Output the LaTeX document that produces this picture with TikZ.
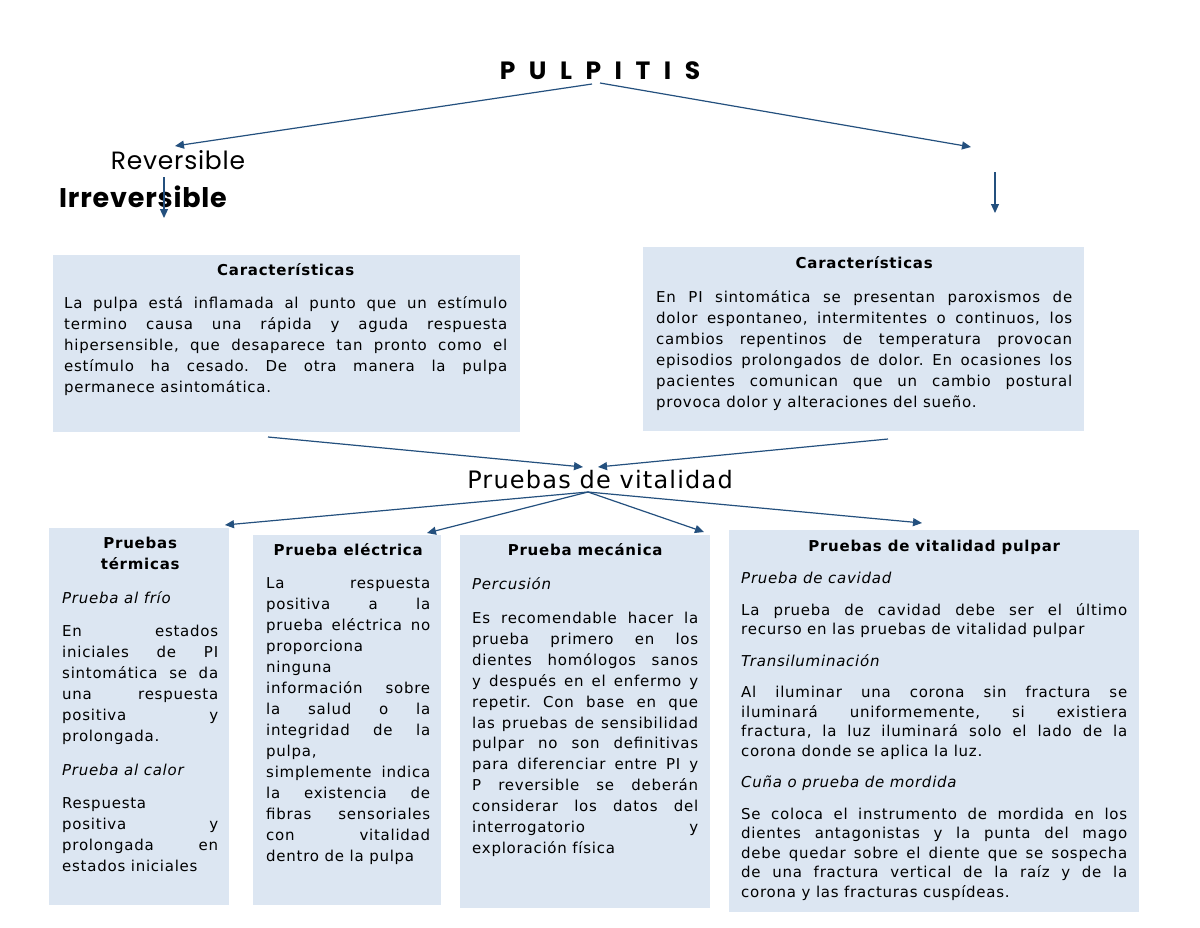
\documentclass[tikz,border=0pt]{standalone}
\usepackage{fontspec}
\setmainfont{DejaVu Sans}[LetterSpace=5]
\newfontfamily\poppreg{Poppins}[LetterSpace=3]
\newfontfamily\poppwide{Poppins}[LetterSpace=33]
\usetikzlibrary{arrows.meta}
\definecolor{boxblue}{HTML}{DCE6F2}
\definecolor{arrblue}{HTML}{24507E}
\newcommand\boxsetup[1]{\frenchspacing\parskip=#1\relax\parindent=0pt\relax\hyphenpenalty=10000\relax\exhyphenpenalty=10000\relax\tolerance=10000\relax\hbadness=10000\relax}
\newcommand\boxtitle[1]{{\centering\rule{0pt}{14pt}\bfseries #1\par}}
\begin{document}
\begin{tikzpicture}[x=1pt,y=-1pt,
  bluebox/.style={fill=boxblue, draw=none, inner sep=0pt, outer sep=0pt, anchor=north west},
  boxtext/.style={anchor=north west, inner sep=0pt, align=justify, font=\fontsize{15}{21}\selectfont},
  conn/.style={draw=arrblue, line width=1.2pt, -{Triangle[length=9pt,width=8pt]}},
  bigtext/.style={anchor=base, inner sep=0pt}]
\useasboundingbox[fill=white] (0,0) rectangle (1200,927);

% headings
\node[bigtext, font=\fontsize{25}{28}\selectfont\poppwide\bfseries] (pulpitis) at (600,79) {P U L P I T I S};
\node[bigtext, font=\fontsize{25}{28}\selectfont\poppreg] (rev) at (178,169) {Reversible};
\node[bigtext, font=\fontsize{27}{30}\selectfont\poppreg\bfseries] (irrev) at (143,207) {Irreversible};
\node[bigtext, font=\fontsize{24}{28}\selectfont\frenchspacing] (pvital) at (600,488) {Pruebas de vitalidad};

% boxes
\node[bluebox, minimum width=467pt, minimum height=177pt] (carL) at (53,255) {};
\node[bluebox, minimum width=441pt, minimum height=184pt] (carR) at (643,247) {};
\node[bluebox, minimum width=180pt, minimum height=377pt] (termBox) at (49,528) {};
\node[bluebox, minimum width=188pt, minimum height=370pt] (elecBox) at (253,535) {};
\node[bluebox, minimum width=250pt, minimum height=373pt] (mecBox) at (460,535) {};
\node[bluebox, minimum width=410pt, minimum height=382pt] (vitBox) at (729,530) {};

% texts
\node[boxtext, text width=443pt] (carLtext) at (64,261.5) {\boxsetup{12pt}\boxtitle{Características}
La pulpa está inflamada al punto que un estímulo\linebreak termino causa una rápida y aguda respuesta\linebreak hipersensible, que desaparece tan pronto como el\linebreak estímulo ha cesado. De otra manera la pulpa\linebreak permanece asintomática.\par};

\node[boxtext, text width=416pt] (carRtext) at (656,254.5) {\boxsetup{13pt}\boxtitle{Características}
En PI sintomática se presentan paroxismos de\linebreak dolor espontaneo, intermitentes o continuos, los\linebreak cambios repentinos de temperatura provocan\linebreak episodios prolongados de dolor. En ocasiones los\linebreak pacientes comunican que un cambio postural\linebreak provoca dolor y alteraciones del sueño.\par};

\node[boxtext, text width=156pt] (termText) at (62,534.5) {\boxsetup{12.5pt}\boxtitle{Pruebas\\térmicas}
\textit{Prueba al frío}\par
En estados\linebreak iniciales de PI\linebreak sintomática se da\linebreak una respuesta\linebreak positiva y\linebreak prolongada.\par
\textit{Prueba al calor}\par
Respuesta\linebreak positiva y\linebreak prolongada en\linebreak estados iniciales\par};

\node[boxtext, text width=164pt] (elecText) at (266,541.5) {\boxsetup{12pt}\boxtitle{Prueba eléctrica}
La respuesta\linebreak positiva a la\linebreak prueba eléctrica no\linebreak proporciona\linebreak ninguna\linebreak información sobre\linebreak la salud o la\linebreak integridad de la\linebreak pulpa,\linebreak simplemente indica\linebreak la existencia de\linebreak fibras sensoriales\linebreak con vitalidad\linebreak dentro de la pulpa\par};

\node[boxtext, text width=226pt, font=\fontsize{15}{20.9}\selectfont] (mecText) at (472,541.5) {\boxsetup{13pt}\boxtitle{Prueba mecánica}
\textit{Percusión}\par
Es recomendable hacer la\linebreak prueba primero en los\linebreak dientes homólogos sanos\linebreak y después en el enfermo y\linebreak repetir. Con base en que\linebreak las pruebas de sensibilidad\linebreak pulpar no son definitivas\linebreak para diferenciar entre PI y\linebreak P reversible se deberán\linebreak considerar los datos del\linebreak interrogatorio y\linebreak exploración física\par};

\node[boxtext, text width=386pt, font=\fontsize{15}{19.4}\selectfont] (vitText) at (741,537.5) {\boxsetup{12.3pt}\boxtitle{Pruebas de vitalidad pulpar}
\textit{Prueba de cavidad}\par
La prueba de cavidad debe ser el último\linebreak recurso en las pruebas de vitalidad pulpar\par
\textit{Transiluminación}\par
Al iluminar una corona sin fractura se\linebreak iluminará uniformemente, si existiera\linebreak fractura, la luz iluminará solo el lado de la\linebreak corona donde se aplica la luz.\par
\textit{Cuña o prueba de mordida}\par
Se coloca el instrumento de mordida en los\linebreak dientes antagonistas y la punta del mago\linebreak debe quedar sobre el diente que se sospecha\linebreak de una fractura vertical de la raíz y de la\linebreak corona y las fracturas cuspídeas.\par};

% connector end points
\coordinate (pL) at (592,84);
\coordinate (pR) at (600,83);
\coordinate (revTip) at (175,146);
\coordinate (irrTip) at (971,147);
\coordinate (revDownS) at (164,177);
\coordinate (revDownE) at (164,218);
\coordinate (irrDownS) at (995,172);
\coordinate (irrDownE) at (995,213);
\coordinate (carLout) at (268,437);
\coordinate (carRout) at (888,439);
\coordinate (pvTipL) at (583,467);
\coordinate (pvTipR) at (598,467);
\coordinate (pvOut) at (588,492);
\coordinate (termTip) at (225,525);
\coordinate (elecTip) at (427,533);
\coordinate (mecTip) at (704,532);
\coordinate (vitTip) at (922,523);

% connectors
\draw[conn] (pL) -- (revTip);
\draw[conn] (pR) -- (irrTip);
\draw[conn] (revDownS) -- (revDownE);
\draw[conn] (irrDownS) -- (irrDownE);
\draw[conn] (carLout) -- (pvTipL);
\draw[conn] (carRout) -- (pvTipR);
\draw[conn] (pvOut) -- (termTip);
\draw[conn] (pvOut) -- (elecTip);
\draw[conn] (pvOut) -- (mecTip);
\draw[conn] (pvOut) -- (vitTip);
\end{tikzpicture}
\end{document}
